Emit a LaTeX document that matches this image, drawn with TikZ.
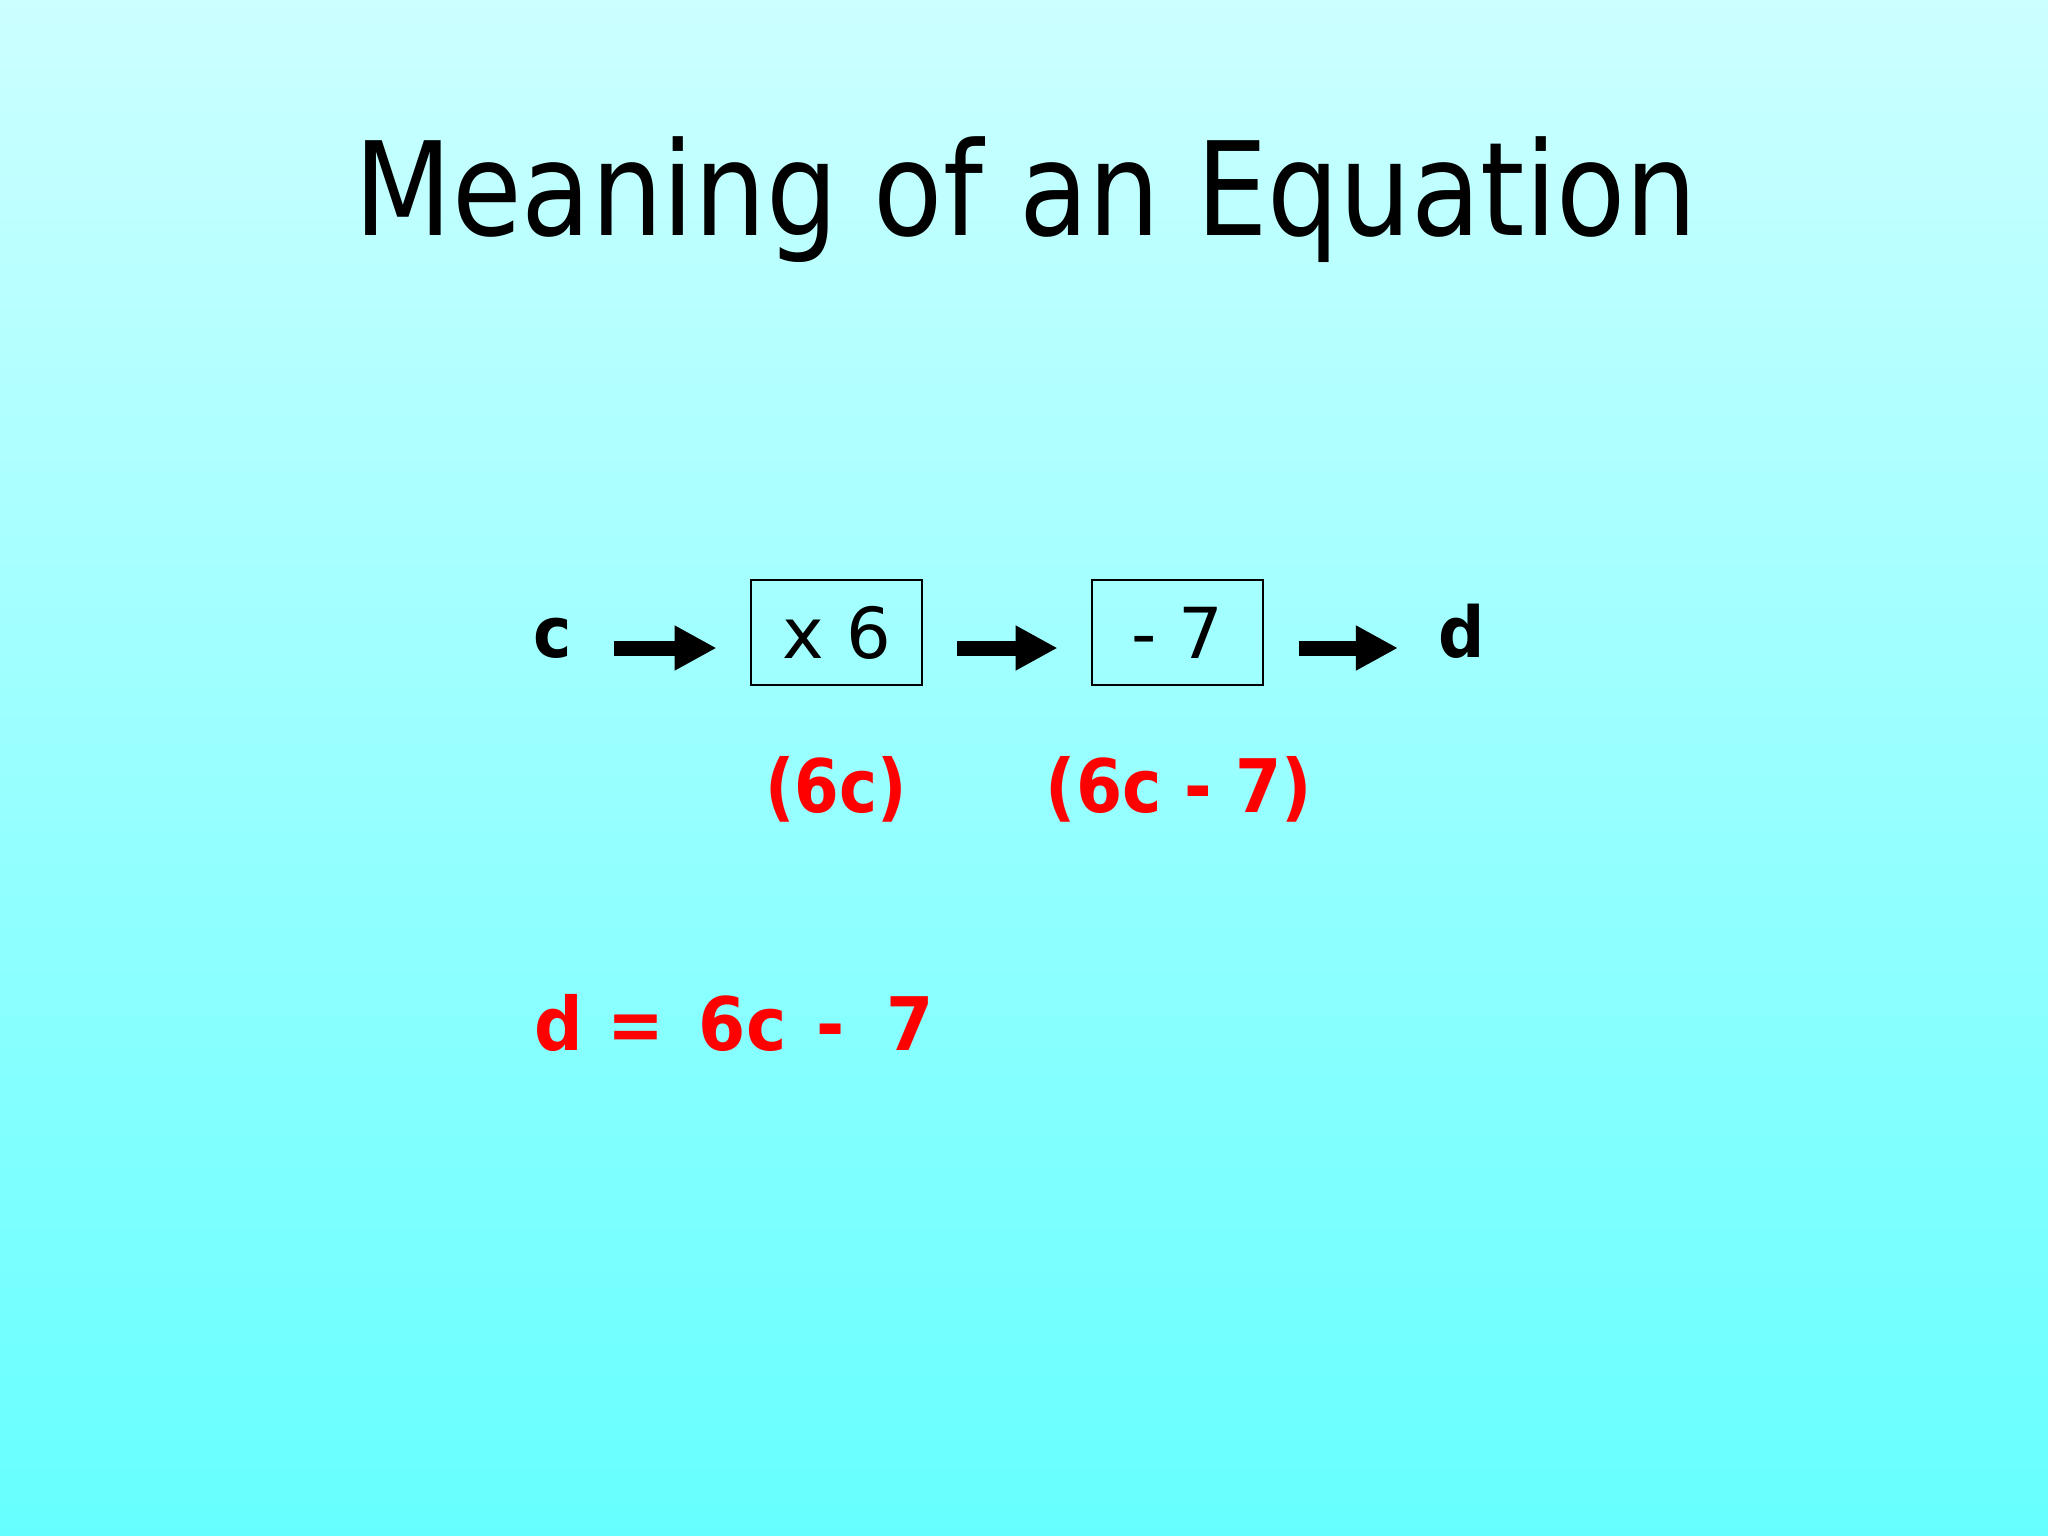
\documentclass[tikz,border=0pt]{standalone}
\usepackage{graphicx}
\usepackage{fontspec}
\setmainfont{DejaVu Sans}
\usetikzlibrary{arrows.meta,calc}
\definecolor{bgtop}{RGB}{204,255,255}
\definecolor{bgbot}{RGB}{102,255,255}
\definecolor{eqred}{RGB}{255,0,0}
\tikzset{
  txt/.style={inner sep=0pt, anchor=base},
  opbox/.style={draw=black, line width=0.75pt, minimum width=1.71cm, minimum height=1.05cm, inner sep=0pt,
    font=\fontsize{20}{24}\selectfont},
  var/.style={txt, font=\bfseries\fontsize{20}{24}\selectfont},
  redtxt/.style={txt, text=eqred, font=\bfseries\fontsize{21}{25}\selectfont},
  bigarrow/.style={line width=0.15cm, -{Triangle[length=0.42cm,width=0.42cm]}}
}
\begin{document}
\begin{tikzpicture}[x=0.01cm,y=-0.01cm]
\shade[top color=bgtop, bottom color=bgbot] (0,0) rectangle (2048,1536);
\useasboundingbox (0,0) rectangle (2048,1536);
\node[txt, font=\fontsize{37}{44}\selectfont] (title) at (1026,235) {\scalebox{0.87}[1]{Meaning of an Equation}};
\coordinate (lvl) at (0,648);
\node[var, anchor=base west] (c) at (533,657) {\scalebox{0.92}[1]{c}};
\node[opbox] (b1) at (836.5,632.5) {x 6};
\node[opbox] (b2) at (1177.5,632.5) {- 7};
\node[var, anchor=base west] (d) at (1438,657) {\scalebox{0.92}[1]{d}};
\draw[bigarrow, shorten <=0.41cm, shorten >=0.33cm] (c.east |- lvl) -- (b1.west |- lvl);
\draw[bigarrow, shorten <=0.34cm, shorten >=0.33cm] (b1.east |- lvl) -- (b2.west |- lvl);
\draw[bigarrow, shorten <=0.35cm, shorten >=0.40cm] (b2.east |- lvl) -- (d.west |- lvl);
\node[redtxt] (r1) at (836,812) {\scalebox{0.87}[1]{(6c)}};
\node[redtxt] (r2) at (1179,812) {\scalebox{0.9}[1]{(6c - 7)}};
\node[redtxt, anchor=base west] (eq) at (534,1050) {\scalebox{0.92}[1]{d =\,\ 6c\hspace{2pt} -\hspace{5.5pt} 7}};
\end{tikzpicture}
\end{document}
